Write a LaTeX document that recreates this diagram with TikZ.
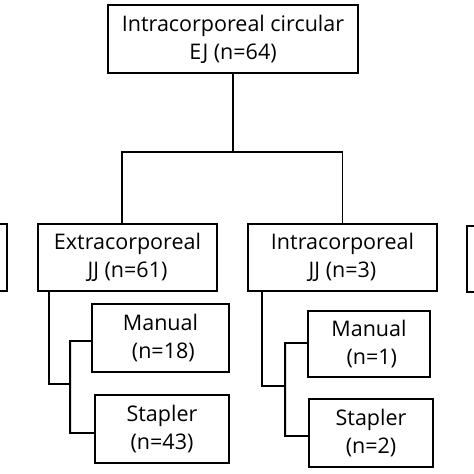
\documentclass[tikz,border=0pt]{standalone}
\usepackage{fontspec}
\setmainfont{Open Sans}
\begin{document}
\begin{tikzpicture}[x=1bp,y=-1bp,
  box/.style={draw=black, line width=1.8bp, fill=white, align=center, inner sep=0pt,
    font=\fontsize{21.5bp}{28bp}\selectfont},
  link/.style={draw=black, line width=1.8bp}]
\useasboundingbox[fill=white] (0,0) rectangle (474,474);
\begin{scope}
\clip (0,0) rectangle (474,474);
\node[box, minimum width=250bp, minimum height=68bp] (top) at (233,39) {Intracorporeal circular\\EJ (n=64)};
\node[box, minimum width=179bp, minimum height=67bp] (ext) at (127.5,257.5) {Extracorporeal\\JJ (n=61)};
\node[box, minimum width=189bp, minimum height=67bp] (intra) at (342.5,257.5) {Intracorporeal\\JJ (n=3)};
\node[box, minimum width=137bp, minimum height=68bp] (man1) at (160.5,338) {Manual\\\ (n=18)};
\node[box, minimum width=134bp, minimum height=68bp] (sta1) at (162,429) {Stapler\\(n=43)};
\node[box, minimum width=122bp, minimum height=66bp] (man2) at (369,344) {Manual\\\ (n=1)};
\node[box, minimum width=124bp, minimum height=68bp] (sta2) at (371,433) {Stapler\\(n=2)};
\node[box, minimum width=134bp, minimum height=67bp] (lpart) at (-60,257.5) {};
\node[box, minimum width=134bp, minimum height=66bp] (rpart) at (534,259) {};
\coordinate (j) at (233,152);
\coordinate (s1) at (71,384);
\coordinate (s2) at (286,386);
\draw[link] (top.south) -- (j);
\draw[link] ([xshift=-5.5bp]ext.north) |- (j) -| (intra.north);
\draw[link] ([xshift=12bp]ext.south west) |- (s1);
\draw[link] ([yshift=-3bp]man1.west) -- ++(-21,0) -- ([xshift=-24bp,yshift=-4bp]sta1.west) -- ([yshift=-4bp]sta1.west);
\draw[link] ([xshift=15bp]intra.south west) |- (s2);
\draw[link] ([yshift=1bp]man2.west) -- ++(-22,0) -- ([xshift=-23bp,yshift=-3bp]sta2.west) -- ([yshift=-3bp]sta2.west);
\end{scope}
\end{tikzpicture}
\end{document}
